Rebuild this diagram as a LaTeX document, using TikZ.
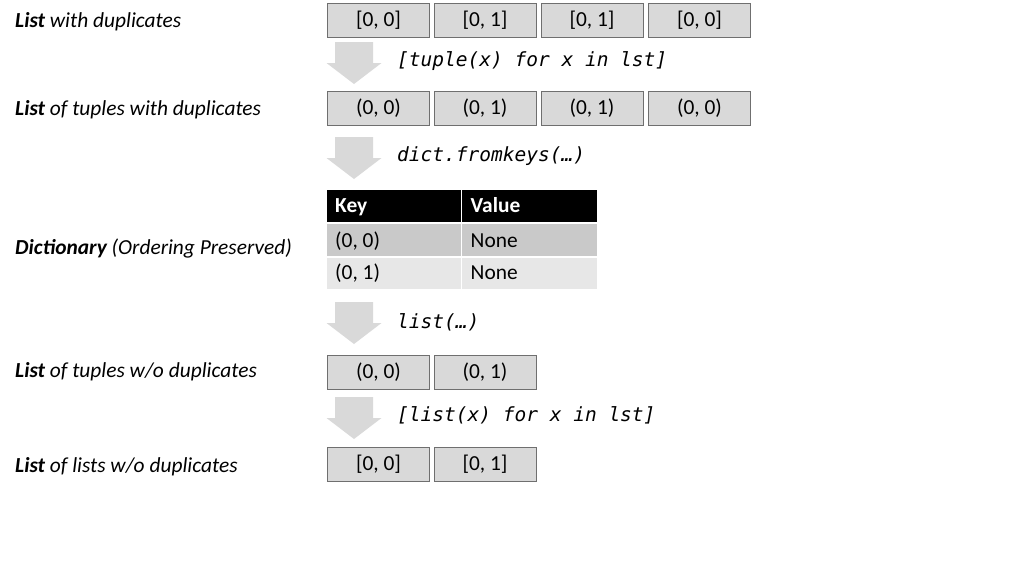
\documentclass[tikz,border=0pt]{standalone}
\usepackage{fontspec}
\setmainfont{Carlito}
\newfontfamily\codefont{DejaVu Sans Mono}
\definecolor{boxfill}{HTML}{D9D9D9}
\definecolor{boxline}{HTML}{6F6F6F}
\definecolor{arrowgrey}{HTML}{D9D9D9}
\definecolor{rowa}{HTML}{C9C9C9}
\definecolor{rowb}{HTML}{E7E7E7}
\tikzset{
  cell/.style={draw=boxline, fill=boxfill, line width=0.8pt, minimum width=102pt, minimum height=34pt, inner sep=0pt, font=\fontsize{21.4}{24}\selectfont},
  lbl/.style={anchor=base west, inner sep=0pt, font=\fontsize{21.4}{24}\selectfont\itshape},
  code/.style={anchor=west, inner sep=0pt, font=\fontsize{19.5}{22}\selectfont\codefont\itshape},
  tcell/.style={anchor=base west, inner sep=0pt, font=\fontsize{21.4}{24}\selectfont},
  pics/downarrow/.style={code={
    \fill[arrowgrey] (-19,0) -- (19,0) -- (19,21) -- (27.5,21) -- (0,42) -- (-27.5,21) -- (-19,21) -- cycle;
  }}
}
\begin{document}
\begin{tikzpicture}[x=1pt,y=-1pt]
\useasboundingbox (0,0) rectangle (1024,576);
% labels
\node[lbl] (l1) at (15,27) {\textbf{List} with duplicates};
\node[lbl] (l2) at (15,115.5) {\textbf{List} of tuples with duplicates};
\node[lbl] (l3) at (15,254) {\textbf{Dictionary} (Ordering Preserved)};
\node[lbl] (l4) at (15,377) {\textbf{List} of tuples w/o duplicates};
\node[lbl] (l5) at (15,472) {\textbf{List} of lists w/o duplicates};
% row 1
\node[cell] (a1) at (378.5,20) {[0, 0]};
\node[cell] (a2) at (485,20) {[0, 1]};
\node[cell] (a3) at (592,20) {[0, 1]};
\node[cell] (a4) at (699.5,20) {[0, 0]};
% arrow 1
\pic at (354,42) {downarrow};
\node[code] (c1) at (397,61) {[tuple(x) for x in lst]};
% row 2
\node[cell] (b1) at (378.5,108.5) {(0, 0)};
\node[cell] (b2) at (485,108.5) {(0, 1)};
\node[cell] (b3) at (592,108.5) {(0, 1)};
\node[cell] (b4) at (699.5,108.5) {(0, 0)};
% arrow 2
\pic at (354,137) {downarrow};
\node[code] (c2) at (397,156) {dict.fromkeys(…)};
% table
\fill[black] (327,190) rectangle (596.5,222);
\fill[rowa] (327,223.5) rectangle (596.5,256);
\fill[rowb] (327,257.5) rectangle (596.5,288.5);
\draw[white, line width=1.2pt] (461.7,190) -- (461.7,288.5);
\node[tcell, text=white] (th1) at (335,212.7) {\textbf{Key}};
\node[tcell, text=white] (th2) at (470.5,212.7) {\textbf{Value}};
\node[tcell] (k1) at (335,247.7) {(0, 0)};
\node[tcell] (v1) at (470.5,247.7) {None};
\node[tcell] (k2) at (335,279.3) {(0, 1)};
\node[tcell] (v2) at (470.5,279.3) {None};
% arrow 3
\pic at (354,302) {downarrow};
\node[code] (c3) at (397,322) {list(…)};
% row 4
\node[cell] (d1) at (378.5,372) {(0, 0)};
\node[cell] (d2) at (485,372) {(0, 1)};
% arrow 4
\pic at (354,397) {downarrow};
\node[code] (c4) at (397,415) {[list(x) for x in lst]};
% row 5
\node[cell] (e1) at (378.5,464.5) {[0, 0]};
\node[cell] (e2) at (485,464.5) {[0, 1]};
\end{tikzpicture}
\end{document}
